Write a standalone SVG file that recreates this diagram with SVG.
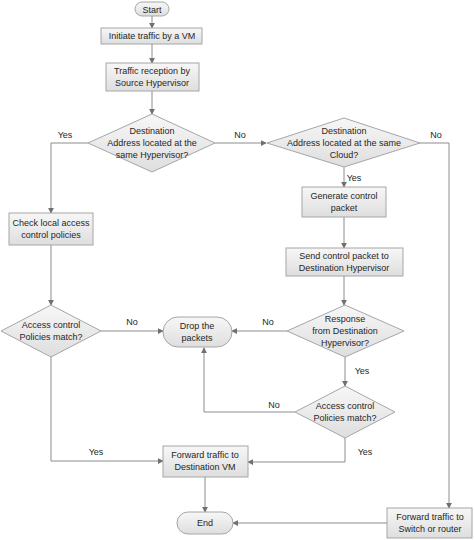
<svg xmlns="http://www.w3.org/2000/svg" width="474" height="540" viewBox="0 0 474 540">
<defs>
<linearGradient id="g" x1="0" y1="0" x2="0" y2="1">
<stop offset="0" stop-color="#f7f7f7"/>
<stop offset="1" stop-color="#dedede"/>
</linearGradient>
<marker id="a" viewBox="0 0 8 8" refX="7" refY="4" markerWidth="6" markerHeight="6" orient="auto" markerUnits="userSpaceOnUse">
<path d="M0,0 L8,4 L0,8 z" fill="#707070"/>
</marker>
<style>
.n{fill:url(#g);stroke:#a6a6a6;stroke-width:1}
.t{font-family:"Liberation Sans",Arial,sans-serif;font-size:9px;fill:#262626;text-anchor:middle}
.l{font-family:"Liberation Sans",Arial,sans-serif;font-size:9px;fill:#262626;text-anchor:middle}
.c{fill:none;stroke:#8c8c8c;stroke-width:1;marker-end:url(#a)}
</style>
</defs>
<rect width="474" height="540" fill="#ffffff"/>
<g id="connectors">
<path class="c" d="M152,16 V28"/>
<path class="c" d="M152,44 V63"/>
<path class="c" d="M152,91 V114"/>
<path class="c" d="M88,143 H51 V213"/>
<path class="c" d="M215,143 H266"/>
<path class="c" d="M420,143 H449 V508"/>
<path class="c" d="M344,167 V187"/>
<path class="c" d="M344,217 V248"/>
<path class="c" d="M344,276 V305"/>
<path class="c" d="M287,331 H232"/>
<path class="c" d="M345,357 V386"/>
<path class="c" d="M295,412 H204 V348"/>
<path class="c" d="M345,438 V462 H248"/>
<path class="c" d="M51,245 V305"/>
<path class="c" d="M101,331 H163"/>
<path class="c" d="M51,357 V461 H163"/>
<path class="c" d="M205,477 V512"/>
<path class="c" d="M387,523 H233"/>
<text class="l" x="65" y="138">Yes</text>
<text class="l" x="240" y="138">No</text>
<text class="l" x="436" y="138">No</text>
<text class="l" x="354" y="181">Yes</text>
<text class="l" x="132" y="325">No</text>
<text class="l" x="268" y="325">No</text>
<text class="l" x="362" y="374">Yes</text>
<text class="l" x="274" y="408">No</text>
<text class="l" x="365" y="455">Yes</text>
<text class="l" x="96" y="455">Yes</text>
</g>
<g id="start">
<rect class="n" x="135" y="2" width="34" height="14" rx="7"/>
<text class="t" x="152" y="12.5">Start</text>
</g>
<g id="initiate">
<rect class="n" x="101" y="28" width="101" height="16"/>
<text class="t" x="152" y="39">Initiate traffic by a VM</text>
</g>
<g id="reception">
<rect class="n" x="106" y="63" width="93" height="28"/>
<text class="t" x="152" y="74">Traffic reception by</text>
<text class="t" x="152" y="86">Source Hypervisor</text>
</g>
<g id="dest-hypervisor">
<polygon class="n" points="152,114 215,143 152,172 88,143"/>
<text class="t" x="152" y="134">Destination</text>
<text class="t" x="152" y="146">Address located at the</text>
<text class="t" x="152" y="158">same Hypervisor?</text>
</g>
<g id="dest-cloud">
<polygon class="n" points="344,118 420,143 344,167 267,143"/>
<text class="t" x="344" y="134">Destination</text>
<text class="t" x="344" y="146">Address located at the same</text>
<text class="t" x="344" y="158">Cloud?</text>
</g>
<g id="check-local">
<rect class="n" x="9" y="213" width="84" height="32"/>
<text class="t" x="51" y="226">Check local access</text>
<text class="t" x="51" y="238">control policies</text>
</g>
<g id="generate">
<rect class="n" x="302" y="187" width="84" height="30"/>
<text class="t" x="344" y="199">Generate control</text>
<text class="t" x="344" y="211">packet</text>
</g>
<g id="send">
<rect class="n" x="286" y="248" width="117" height="28"/>
<text class="t" x="344" y="259">Send control packet to</text>
<text class="t" x="344" y="271">Destination Hypervisor</text>
</g>
<g id="access1">
<polygon class="n" points="51,305 101,331 51,357 1,331"/>
<text class="t" x="51" y="328">Access control</text>
<text class="t" x="51" y="340">Policies match?</text>
</g>
<g id="drop">
<rect class="n" x="163" y="317" width="69" height="30" rx="15"/>
<text class="t" x="197" y="329">Drop the</text>
<text class="t" x="197" y="341">packets</text>
</g>
<g id="response">
<polygon class="n" points="345,305 404,331 345,357 287,331"/>
<text class="t" x="345" y="322">Response</text>
<text class="t" x="345" y="334">from Destination</text>
<text class="t" x="345" y="346">Hypervisor?</text>
</g>
<g id="access2">
<polygon class="n" points="345,386 395,412 345,438 295,412"/>
<text class="t" x="345" y="409">Access control</text>
<text class="t" x="345" y="421">Policies match?</text>
</g>
<g id="forward-vm">
<rect class="n" x="163" y="446" width="85" height="31"/>
<text class="t" x="205" y="458">Forward traffic to</text>
<text class="t" x="205" y="470">Destination VM</text>
</g>
<g id="end">
<rect class="n" x="177" y="512" width="56" height="22" rx="11"/>
<text class="t" x="205" y="526">End</text>
</g>
<g id="forward-switch">
<rect class="n" x="387" y="508" width="85" height="30"/>
<text class="t" x="430" y="520">Forward traffic to</text>
<text class="t" x="430" y="532">Switch or router</text>
</g>
</svg>
